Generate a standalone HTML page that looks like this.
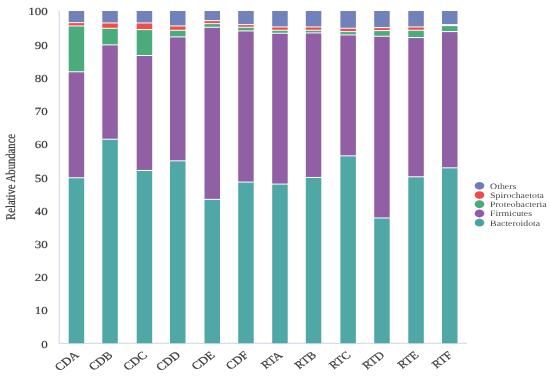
<!DOCTYPE html>
<html><head><meta charset="utf-8"><title>Relative Abundance</title>
<style>
html,body{margin:0;padding:0;background:#fff;}
body{width:550px;height:376px;overflow:hidden;}
svg{display:block;}
text{font-family:"Liberation Serif","Times New Roman",serif;fill:#3a3a3a;stroke:#3a3a3a;stroke-width:0.22px;text-rendering:geometricPrecision;}
</style></head><body>
<svg width="550" height="376" viewBox="0 0 550 376">
<rect width="550" height="376" fill="#fff"/>

<rect x="58.7" y="10.5" width="1" height="333.2" fill="#c9d3ea"/>
<rect x="58.5" y="342.8" width="408.5" height="1" fill="#cdd6ea"/>
<rect x="68.70" y="178.26" width="15.5" height="164.94" fill="#4fa8a6"/>
<rect x="68.70" y="72.29" width="15.5" height="104.97" fill="#905fa4"/>
<rect x="68.70" y="26.45" width="15.5" height="44.84" fill="#4cab7b"/>
<rect x="68.70" y="23.13" width="15.5" height="2.32" fill="#f04d4d"/>
<rect x="68.70" y="11.00" width="15.5" height="11.13" fill="#7181b9"/>
<rect x="102.30" y="139.73" width="15.5" height="203.47" fill="#4fa8a6"/>
<rect x="102.30" y="45.38" width="15.5" height="93.34" fill="#905fa4"/>
<rect x="102.30" y="28.77" width="15.5" height="15.61" fill="#4cab7b"/>
<rect x="102.30" y="23.46" width="15.5" height="4.32" fill="#f04d4d"/>
<rect x="102.30" y="11.00" width="15.5" height="11.46" fill="#7181b9"/>
<rect x="136.70" y="170.96" width="15.5" height="172.24" fill="#4fa8a6"/>
<rect x="136.70" y="56.01" width="15.5" height="113.94" fill="#905fa4"/>
<rect x="136.70" y="30.10" width="15.5" height="24.91" fill="#4cab7b"/>
<rect x="136.70" y="23.46" width="15.5" height="5.64" fill="#f04d4d"/>
<rect x="136.70" y="11.00" width="15.5" height="11.46" fill="#7181b9"/>
<rect x="170.00" y="161.32" width="15.5" height="181.88" fill="#4fa8a6"/>
<rect x="170.00" y="37.41" width="15.5" height="122.91" fill="#905fa4"/>
<rect x="170.00" y="30.77" width="15.5" height="5.64" fill="#4cab7b"/>
<rect x="170.00" y="26.45" width="15.5" height="3.32" fill="#f04d4d"/>
<rect x="170.00" y="11.00" width="15.5" height="14.45" fill="#7181b9"/>
<rect x="204.50" y="199.86" width="15.5" height="143.34" fill="#4fa8a6"/>
<rect x="204.50" y="27.78" width="15.5" height="171.08" fill="#905fa4"/>
<rect x="204.50" y="24.12" width="15.5" height="2.65" fill="#4cab7b"/>
<rect x="204.50" y="21.13" width="15.5" height="1.99" fill="#f04d4d"/>
<rect x="204.50" y="11.00" width="15.5" height="9.13" fill="#7181b9"/>
<rect x="238.20" y="182.58" width="15.5" height="160.62" fill="#4fa8a6"/>
<rect x="238.20" y="31.43" width="15.5" height="150.15" fill="#905fa4"/>
<rect x="238.20" y="27.78" width="15.5" height="2.65" fill="#4cab7b"/>
<rect x="238.20" y="25.12" width="15.5" height="1.66" fill="#f04d4d"/>
<rect x="238.20" y="11.00" width="15.5" height="13.12" fill="#7181b9"/>
<rect x="272.20" y="184.58" width="15.5" height="158.62" fill="#4fa8a6"/>
<rect x="272.20" y="33.76" width="15.5" height="149.82" fill="#905fa4"/>
<rect x="272.20" y="30.77" width="15.5" height="1.99" fill="#4cab7b"/>
<rect x="272.20" y="27.45" width="15.5" height="2.32" fill="#f04d4d"/>
<rect x="272.20" y="11.00" width="15.5" height="15.45" fill="#7181b9"/>
<rect x="305.80" y="177.93" width="15.5" height="165.27" fill="#4fa8a6"/>
<rect x="305.80" y="33.43" width="15.5" height="143.51" fill="#905fa4"/>
<rect x="305.80" y="30.77" width="15.5" height="1.66" fill="#4cab7b"/>
<rect x="305.80" y="27.45" width="15.5" height="2.32" fill="#f04d4d"/>
<rect x="305.80" y="11.00" width="15.5" height="15.45" fill="#7181b9"/>
<rect x="340.40" y="156.34" width="15.5" height="186.86" fill="#4fa8a6"/>
<rect x="340.40" y="35.42" width="15.5" height="119.92" fill="#905fa4"/>
<rect x="340.40" y="32.10" width="15.5" height="2.32" fill="#4cab7b"/>
<rect x="340.40" y="28.77" width="15.5" height="2.32" fill="#f04d4d"/>
<rect x="340.40" y="11.00" width="15.5" height="16.77" fill="#7181b9"/>
<rect x="374.20" y="218.46" width="15.5" height="124.74" fill="#4fa8a6"/>
<rect x="374.20" y="36.75" width="15.5" height="180.71" fill="#905fa4"/>
<rect x="374.20" y="31.10" width="15.5" height="4.65" fill="#4cab7b"/>
<rect x="374.20" y="28.11" width="15.5" height="1.99" fill="#f04d4d"/>
<rect x="374.20" y="11.00" width="15.5" height="16.11" fill="#7181b9"/>
<rect x="408.30" y="177.27" width="15.5" height="165.93" fill="#4fa8a6"/>
<rect x="408.30" y="38.08" width="15.5" height="138.19" fill="#905fa4"/>
<rect x="408.30" y="30.77" width="15.5" height="6.31" fill="#4cab7b"/>
<rect x="408.30" y="27.45" width="15.5" height="2.32" fill="#f04d4d"/>
<rect x="408.30" y="11.00" width="15.5" height="15.45" fill="#7181b9"/>
<rect x="442.00" y="168.30" width="15.5" height="174.90" fill="#4fa8a6"/>
<rect x="442.00" y="32.10" width="15.5" height="135.20" fill="#905fa4"/>
<rect x="442.00" y="26.12" width="15.5" height="4.98" fill="#4cab7b"/>
<rect x="442.00" y="11.00" width="15.5" height="13.12" fill="#7181b9"/>
<text transform="translate(47.8,347.60) scale(1,0.84)" font-size="13.0" text-anchor="end">0</text>
<text transform="translate(47.8,314.38) scale(1,0.84)" font-size="13.0" text-anchor="end">10</text>
<text transform="translate(47.8,281.16) scale(1,0.84)" font-size="13.0" text-anchor="end">20</text>
<text transform="translate(47.8,247.94) scale(1,0.84)" font-size="13.0" text-anchor="end">30</text>
<text transform="translate(47.8,214.72) scale(1,0.84)" font-size="13.0" text-anchor="end">40</text>
<text transform="translate(47.8,181.50) scale(1,0.84)" font-size="13.0" text-anchor="end">50</text>
<text transform="translate(47.8,148.28) scale(1,0.84)" font-size="13.0" text-anchor="end">60</text>
<text transform="translate(47.8,115.06) scale(1,0.84)" font-size="13.0" text-anchor="end">70</text>
<text transform="translate(47.8,81.84) scale(1,0.84)" font-size="13.0" text-anchor="end">80</text>
<text transform="translate(47.8,48.62) scale(1,0.84)" font-size="13.0" text-anchor="end">90</text>
<text transform="translate(47.8,15.40) scale(1,0.84)" font-size="13.0" text-anchor="end">100</text>
<text transform="translate(15.3,176.9) scale(1,0.80) rotate(-90)" font-size="13.3" text-anchor="middle">Relative Abundance</text>
<text transform="translate(79.85,356.00) scale(1,0.84) rotate(-42)" font-size="13.0" text-anchor="end">CDA</text>
<text transform="translate(113.45,356.00) scale(1,0.84) rotate(-42)" font-size="13.0" text-anchor="end">CDB</text>
<text transform="translate(147.85,356.00) scale(1,0.84) rotate(-42)" font-size="13.0" text-anchor="end">CDC</text>
<text transform="translate(181.15,356.00) scale(1,0.84) rotate(-42)" font-size="13.0" text-anchor="end">CDD</text>
<text transform="translate(215.65,356.00) scale(1,0.84) rotate(-42)" font-size="13.0" text-anchor="end">CDE</text>
<text transform="translate(249.35,356.00) scale(1,0.84) rotate(-42)" font-size="13.0" text-anchor="end">CDF</text>
<text transform="translate(283.35,356.00) scale(1,0.84) rotate(-42)" font-size="12.7" text-anchor="end">RTA</text>
<text transform="translate(316.95,356.00) scale(1,0.84) rotate(-42)" font-size="12.7" text-anchor="end">RTB</text>
<text transform="translate(351.55,356.00) scale(1,0.84) rotate(-42)" font-size="12.7" text-anchor="end">RTC</text>
<text transform="translate(385.35,356.00) scale(1,0.84) rotate(-42)" font-size="12.7" text-anchor="end">RTD</text>
<text transform="translate(419.45,356.00) scale(1,0.84) rotate(-42)" font-size="12.7" text-anchor="end">RTE</text>
<text transform="translate(453.15,356.00) scale(1,0.84) rotate(-42)" font-size="12.7" text-anchor="end">RTF</text>
<ellipse cx="479.5" cy="185.80" rx="4.8" ry="3.9" fill="#6d7dba"/>
<text transform="translate(490.1,188.60) scale(1,0.84)" font-size="9.8" style="stroke:none;fill:#454545">Others</text>
<ellipse cx="479.5" cy="195.03" rx="4.8" ry="3.9" fill="#f44848"/>
<text transform="translate(490.1,197.83) scale(1,0.84)" font-size="9.8" style="stroke:none;fill:#454545">Spirochaetota</text>
<ellipse cx="479.5" cy="204.26" rx="4.8" ry="3.9" fill="#46ab78"/>
<text transform="translate(490.1,207.06) scale(1,0.84)" font-size="9.8" style="stroke:none;fill:#454545">Proteobacteria</text>
<ellipse cx="479.5" cy="213.49" rx="4.8" ry="3.9" fill="#9358ab"/>
<text transform="translate(490.1,216.29) scale(1,0.84)" font-size="9.8" style="stroke:none;fill:#454545">Firmicutes</text>
<ellipse cx="479.5" cy="222.72" rx="4.8" ry="3.9" fill="#44a5a2"/>
<text transform="translate(490.1,225.52) scale(1,0.84)" font-size="9.8" style="stroke:none;fill:#454545">Bacteroidota</text>
</svg></body></html>
